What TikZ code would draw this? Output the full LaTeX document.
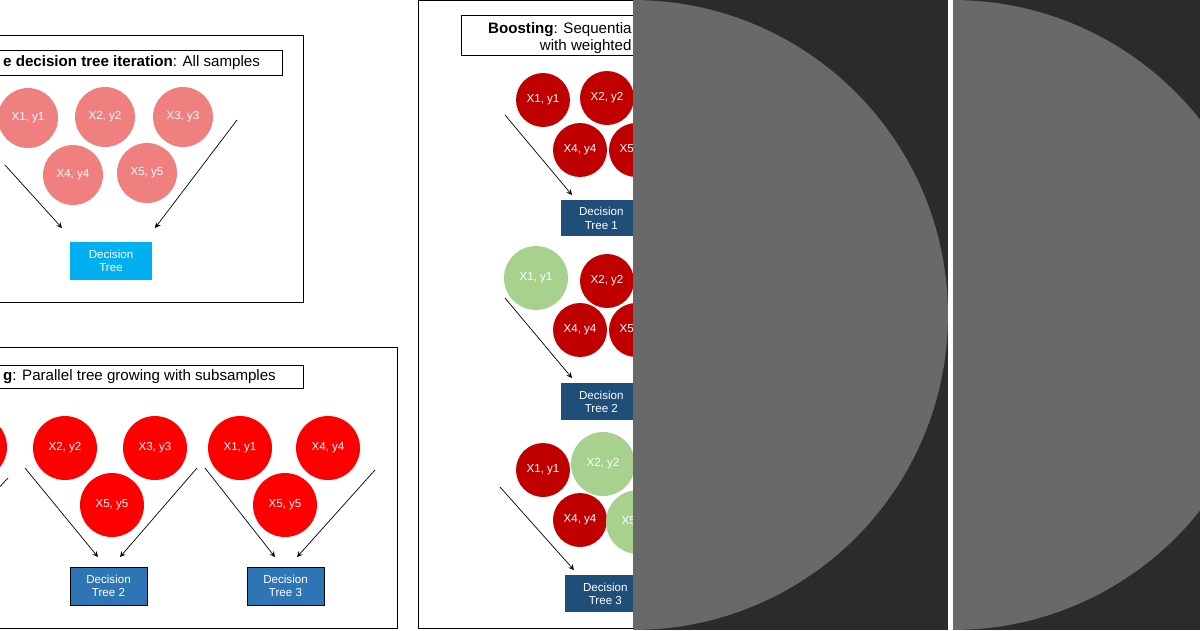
\documentclass[tikz,border=0pt]{standalone}
\usepackage{fontspec}
\setmainfont{Liberation Sans}
\begin{document}
\begin{tikzpicture}[x=0.02cm,y=-0.02cm,
 smp/.style={circle,minimum size=#1*0.04cm,inner sep=0pt,text=white,font=\fontsize{6.6}{7}\selectfont},
 pink/.style={smp=30,fill=pink1},
 red/.style={smp=32,fill=red1},
 dred/.style={smp=27,fill=dred1},
 grn/.style={smp=32,fill=grn1},
 tbox/.style={draw=black,fill=#1,text=white,align=center,font=\fontsize{6.6}{7.5}\selectfont,inner sep=1pt},
 arr/.style={->,>=stealth,thin},
 frame/.style={draw=black,thin}]
\definecolor{pink1}{HTML}{F08080}
\definecolor{red1}{HTML}{FF0000}
\definecolor{dred1}{HTML}{C00000}
\definecolor{grn1}{HTML}{A9D18E}
\definecolor{cyan1}{HTML}{00B0F0}
\definecolor{blue1}{HTML}{2E75B6}
\definecolor{navy1}{HTML}{1F4E79}
\definecolor{dark1}{HTML}{2B2B2B}
\definecolor{grey1}{HTML}{696969}
\useasboundingbox (0,0) rectangle (1200,630);
\clip (0,0) rectangle (1200,630);
\fill[white] (0,0) rectangle (1200,630);
% panel 1
\draw[frame] (-5,35) rectangle (303,302);
\node[draw,thin,minimum width=287*0.02cm,minimum height=25*0.02cm,anchor=north west,inner sep=0pt] (t1) at (-5,50) {};
\node[anchor=west,font=\fontsize{8.6}{10}\selectfont] at (-3,63) {\textbf{e decision tree iteration}: All samples};
\node[pink] (a1) at (28,118) {X1, y1};
\node[pink] (a2) at (105,117) {X2, y2};
\node[pink] (a3) at (183,117) {X3, y3};
\node[pink] (a4) at (73,175) {X4, y4};
\node[pink] (a5) at (147,173) {X5, y5};
\node[tbox=cyan1,draw=none,minimum width=82*0.02cm,minimum height=38*0.02cm] (dt) at (111,261) {Decision\\Tree};
\coordinate (s1) at (5,165); \coordinate (e1) at (62,228);
\coordinate (s2) at (237,120); \coordinate (e2) at (155,228);
\draw[arr] (s1)--(e1); \draw[arr] (s2)--(e2);
% panel 2
\draw[frame] (-5,347) rectangle (397,628);
\node[draw,thin,minimum width=308*0.02cm,minimum height=23*0.02cm,anchor=north west,inner sep=0pt] (t2) at (-5,365) {};
\node[anchor=west,font=\fontsize{8.6}{10}\selectfont] at (-3,376.5) {\textbf{g}: Parallel tree growing with subsamples};
\node[red] (b0) at (-25,447) {};
\node[red] (b2) at (65,448) {X2, y2};
\node[red] (b3) at (155,448) {X3, y3};
\node[red] (b5) at (112,505) {X5, y5};
\node[red] (c1) at (240,448) {X1, y1};
\node[red] (c4) at (328,448) {X4, y4};
\node[red] (c5) at (285,505) {X5, y5};
\node[tbox=blue1,minimum width=77*0.02cm,minimum height=38*0.02cm] (d2) at (108.5,586) {Decision\\Tree 2};
\node[tbox=blue1,minimum width=77*0.02cm,minimum height=38*0.02cm] (d3) at (285.5,586) {Decision\\Tree 3};
\coordinate (p0) at (8,478); \coordinate (q0) at (-5,492);
\draw (p0)--(q0);
\coordinate (p1) at (25,468); \coordinate (q1) at (98,557);
\coordinate (p2) at (197,468); \coordinate (q2) at (120,557);
\coordinate (p3) at (205,468); \coordinate (q3) at (275,557);
\coordinate (p4) at (375,470); \coordinate (q4) at (297,557);
\draw[arr] (p1)--(q1); \draw[arr] (p2)--(q2); \draw[arr] (p3)--(q3); \draw[arr] (p4)--(q4);
% panel 3
\draw[frame] (418,0) rectangle (660,628);
\node[draw,thin,minimum width=200*0.02cm,minimum height=40*0.02cm,anchor=north west,inner sep=0pt] (t3) at (461,15) {};
\node[anchor=north west,font=\fontsize{8.6}{10}\selectfont,align=right] at (482,16) {\textbf{Boosting}: Sequentia\\with weighted};
\node[dred] (r1) at (543,100) {X1, y1};
\node[dred] (r2) at (607,98) {X2, y2};
\node[dred] (r4) at (580,150) {X4, y4};
\node[dred] (r5) at (636,150) {X5, y5};
\node[tbox=navy1,draw=none,minimum width=80*0.02cm,minimum height=36*0.02cm,anchor=north west] (n1) at (561,200) {Decision\\Tree 1};
\node[grn] (g1) at (536,278) {X1, y1};
\node[dred] (s2b) at (607,281) {X2, y2};
\node[dred] (s4) at (580,330) {X4, y4};
\node[dred] (s5) at (636,330) {X5, y5};
\node[tbox=navy1,draw=none,minimum width=80*0.02cm,minimum height=37*0.02cm,anchor=north west] (n2) at (561,383) {Decision\\Tree 2};
\node[dred] (u1) at (543,470) {X1, y1};
\node[grn] (u2) at (603,464) {X2, y2};
\node[dred] (u4) at (580,520) {X4, y4};
\node[grn] (u5) at (638,522) {X5, y5};
\node[tbox=navy1,draw=none,minimum width=80*0.02cm,minimum height=37*0.02cm,anchor=north west] (n3) at (565,575) {Decision\\Tree 3};
\coordinate (k1) at (505,115); \coordinate (l1) at (572,195);
\coordinate (k2) at (505,298); \coordinate (l2) at (572,378);
\coordinate (k3) at (500,487); \coordinate (l3) at (574,570);
\draw[arr] (k1)--(l1); \draw[arr] (k2)--(l2); \draw[arr] (k3)--(l3);
% overlay panels
\fill[dark1] (633,0) rectangle (948,630);
\fill[dark1] (953,0) rectangle (1200,630);
\begin{scope}
\clip (633,0) rectangle (948,630);
\fill[grey1] (633,315) circle[radius=6.3cm];
\end{scope}
\begin{scope}
\clip (953,0) rectangle (1200,630);
\fill[grey1] (953,315) circle[radius=6.3cm];
\end{scope}
\end{tikzpicture}
\end{document}
